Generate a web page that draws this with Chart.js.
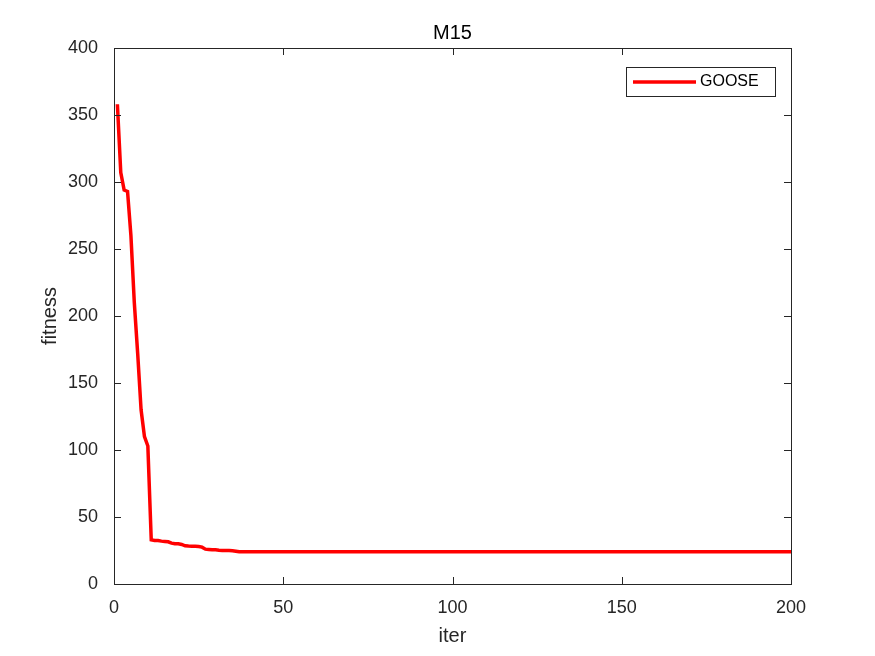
<!DOCTYPE html><html><head><meta charset="utf-8">
<script src="https://cdn.jsdelivr.net/npm/chart.js@4"></script>
<style>body{margin:0;background:#fff}canvas{display:block}</style></head><body>
<canvas id="c" width="875" height="656"></canvas>
<script>
const title = "M15";
const seriesName = "GOOSE";
const xTicks = [0, 50, 100, 150, 200];
const yTicks = [0, 50, 100, 150, 200, 250, 300, 350, 400];
const fitness = [358,307,294,293,260,210,172,130,110,103,
33,32.5,32.5,32,31.8,31.5,30.5,30,30,29.5,
28.5,28.3,28.2,28.2,28,27.5,26,25.8,25.6,25.5,
25.2,25,25,25,24.8,24.5,24,24,24,24,
24,24,24,24,24,24,24,24,24,24,24,24,24,24,24,24,24,24,24,24,
24,24,24,24,24,24,24,24,24,24,24,24,24,24,24,24,24,24,24,24,
24,24,24,24,24,24,24,24,24,24,24,24,24,24,24,24,24,24,24,24,
24,24,24,24,24,24,24,24,24,24,24,24,24,24,24,24,24,24,24,24,
24,24,24,24,24,24,24,24,24,24,24,24,24,24,24,24,24,24,24,24,
24,24,24,24,24,24,24,24,24,24,24,24,24,24,24,24,24,24,24,24,
24,24,24,24,24,24,24,24,24,24,24,24,24,24,24,24,24,24,24,24,
24,24,24,24,24,24,24,24,24,24,24,24,24,24,24,24,24,24,24,24];
const iters = fitness.map((_, i) => i + 1);
const F = "'Liberation Sans', Arial, sans-serif";
const deco = {
  id: 'deco',
  afterDraw(ch) {
    const c = ch.ctx, a = ch.chartArea, xs = ch.scales.x, ys = ch.scales.y;
    c.save();
    c.strokeStyle = '#262626'; c.lineWidth = 1;
    c.strokeRect(a.left + 0.5, a.top + 0.5, a.right - a.left, a.bottom - a.top);
    c.beginPath();
    xTicks.forEach(v => { const p = Math.round(xs.getPixelForValue(v)) + 0.5;
      c.moveTo(p, a.bottom); c.lineTo(p, a.bottom - 7); c.moveTo(p, a.top); c.lineTo(p, a.top + 7); });
    yTicks.forEach(v => { const p = Math.round(ys.getPixelForValue(v)) + 0.5;
      c.moveTo(a.left, p); c.lineTo(a.left + 7, p); c.moveTo(a.right, p); c.lineTo(a.right - 7, p); });
    c.stroke();
    c.fillStyle = '#000'; c.textAlign = 'center'; c.textBaseline = 'middle';
    c.font = '20px ' + F; c.fillText(title, (a.left + a.right) / 2, 33);
    c.fillStyle = '#262626';
    c.fillText('iter', (a.left + a.right) / 2, 636);
    c.save(); c.translate(50, (a.top + a.bottom) / 2); c.rotate(-Math.PI / 2);
    c.fillText('fitness', 0, 0); c.restore();
    c.fillStyle = '#fff'; c.fillRect(626, 67, 149, 29);
    c.strokeStyle = '#262626'; c.strokeRect(626.5, 67.5, 149, 29);
    c.strokeStyle = '#f00'; c.lineWidth = 3.5; c.beginPath(); c.moveTo(633, 82); c.lineTo(696, 82); c.stroke();
    c.fillStyle = '#000'; c.textAlign = 'left'; c.font = '16px ' + F; c.fillText(seriesName, 700, 82);
    c.restore();
  }
};
new Chart(document.getElementById('c'), {
  type: 'line',
  data: { datasets: [{ label: seriesName, data: iters.map((x, i) => ({ x, y: fitness[i] })),
    borderColor: '#f00', borderWidth: 3.5, pointRadius: 0, tension: 0 }] },
  options: {
    responsive: false, animation: false,
    layout: { padding: { top: 48, right: 84, left: 0, bottom: 0 } },
    plugins: { legend: { display: false }, tooltip: { enabled: false } },
    scales: {
      x: { type: 'linear', min: 0, max: 200, afterBuildTicks: s => { s.ticks = xTicks.map(v => ({ value: v })); },
        grid: { display: false }, border: { display: false },
        ticks: { color: '#262626', font: { size: 18, family: F }, padding: 5, maxRotation: 0 },
        afterFit: s => { s.height = 72; } },
      y: { min: 0, max: 400, afterBuildTicks: s => { s.ticks = yTicks.map(v => ({ value: v })); },
        grid: { display: false }, border: { display: false },
        ticks: { color: '#262626', font: { size: 18, family: F }, padding: 8 },
        afterFit: s => { s.width = 114; } }
    }
  },
  plugins: [deco]
});
</script></body></html>
